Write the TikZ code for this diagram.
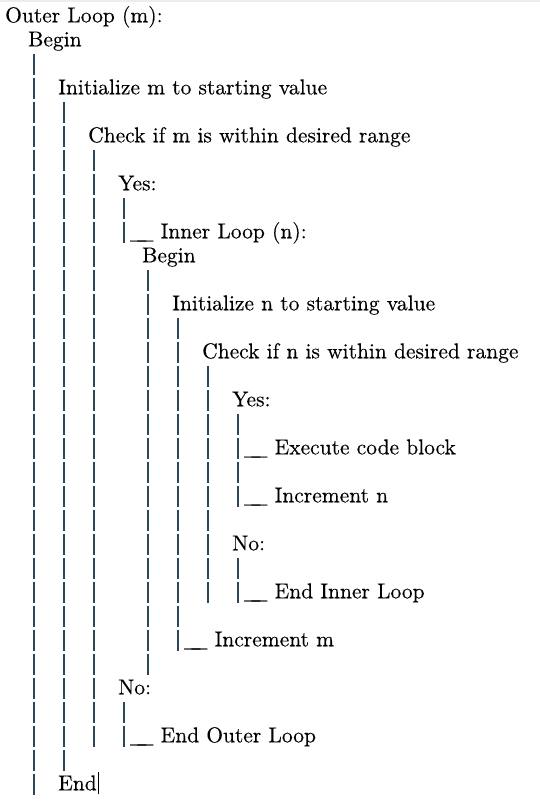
\documentclass[tikz,border=0pt]{standalone}
\usepackage{fontspec}
\setmainfont{lmroman10-regular}[Extension=.otf, FakeBold=0.25]

\definecolor{barcol}{RGB}{44,72,88}
\newcommand{\twous}{\_\kern-9pt\_}
\tikzset{
    codeline/.style={anchor=base west, inner sep=0pt, font=\fontsize{21.5}{24}\selectfont},
    bar/.style={draw=barcol, line width=1.8pt},
}

\begin{document}
\begin{tikzpicture}[x=1pt, y=-1pt]
    \useasboundingbox (0, 0) rectangle (540, 809);
    \fill[black!7] (0, 0) rectangle (540, 2);
    % vertical bars, one per text line
    \foreach \x/\a/\b in {34/3/33, 64/5/32, 94/7/31, 124/9/10, 124/30/31,
        148/12/28, 178/14/27, 208/16/25, 238/18/21, 238/24/25}
        \foreach \k in {\a,...,\b}
            \draw[bar] (\x, {24*\k-18.2}) -- (\x, {24*\k+2.8});
    % outer loop
    \node[codeline] (outer) at (5, 22.3) {Outer Loop (m):};
    \node[codeline] (beginm) at (28, 46.3) {Begin};
    \node[codeline] (initm) at (58, 94.3) {Initialize m to starting value};
    \node[codeline] (checkm) at (88, 142.3) {Check if m is within desired range};
    \node[codeline] (yesm) at (118, 190.3) {Yes:};
    \node[codeline] (inner) at (130, 238.3) {\twous\ Inner Loop (n):};
    % inner loop
    \node[codeline] (beginn) at (142, 262.3) {Begin};
    \node[codeline] (initn) at (172, 310.3) {Initialize n to starting value};
    \node[codeline] (checkn) at (202, 358.3) {Check if n is within desired range};
    \node[codeline] (yesn) at (232, 406.3) {Yes:};
    \node[codeline] (exec) at (244, 454.3) {\twous\ Execute code block};
    \node[codeline] (incn) at (244, 502.3) {\twous\ Increment n};
    \node[codeline] (non) at (232, 550.3) {No:};
    \node[codeline] (endinner) at (244, 598.3) {\twous\ End Inner Loop};
    \node[codeline] (incm) at (184, 646.3) {\twous\ Increment m};
    \node[codeline] (nom) at (118, 694.3) {No:};
    \node[codeline] (endouter) at (130, 742.3) {\twous\ End Outer Loop};
    \node[codeline] (endm) at (58, 790.3) {End};
    \draw[line width=0.8pt] (endm.base east) ++(1, 4) -- ++(0, -22);
\end{tikzpicture}
\end{document}
